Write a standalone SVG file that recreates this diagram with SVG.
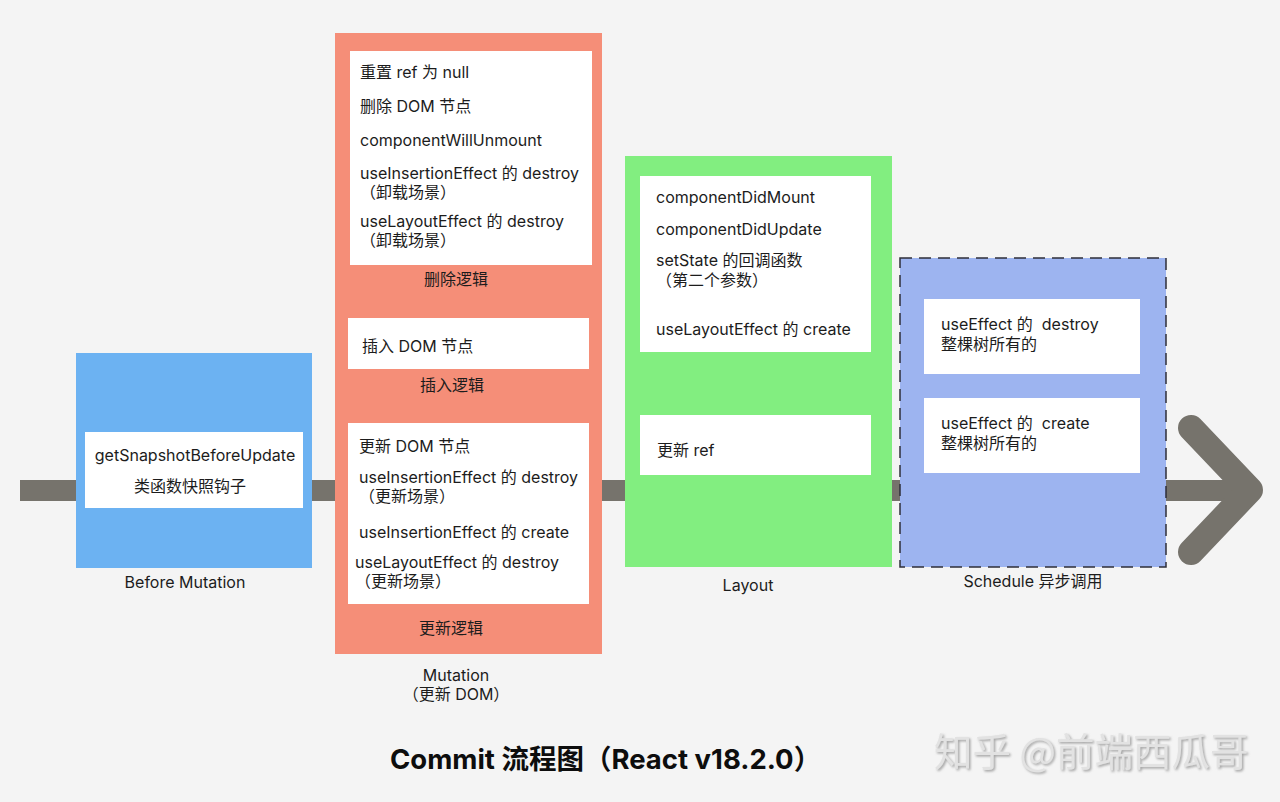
<svg xmlns="http://www.w3.org/2000/svg" width="1280" height="802" viewBox="0 0 1280 802">
<defs>
<style>
.t{font-family:Inter,"Noto Sans CJK SC",sans-serif;font-size:16px;fill:#1c1c1c;white-space:pre}
.c{text-anchor:middle}
.w{fill:#ffffff}
.title{font-family:Inter,"Noto Sans CJK SC",sans-serif;font-size:27.5px;font-weight:bold;fill:#0d0d0d}
.wm{font-family:"Noto Sans CJK SC",sans-serif;font-size:38.5px;fill:#e2e2e2}
</style>
<filter id="sh" x="-5%" y="-20%" width="110%" height="140%">
<feDropShadow dx="1.5" dy="1.5" stdDeviation="0.8" flood-color="#9a9a9a" flood-opacity="0.9"/>
</filter>
</defs>
<rect width="1280" height="802" fill="#f4f4f4"/>

<g id="timeline">
<rect x="20" y="480" width="1225" height="21" fill="#76736c"/>
<polyline points="1191,428 1250,490 1191,552" fill="none" stroke="#76736c" stroke-width="26" stroke-linecap="round" stroke-linejoin="round"/>
</g>

<g id="before-mutation">
<rect x="76" y="353" width="236" height="215" fill="#6cb2f2"/>
<rect x="85" y="432" width="218" height="76" class="w"/>
<text class="t c" x="195" y="461">getSnapshotBeforeUpdate</text>
<text class="t c" x="190" y="492">类函数快照钩子</text>
<text class="t c" x="185" y="588">Before Mutation</text>
</g>

<g id="mutation">
<rect x="335" y="33" width="267" height="621" fill="#f58e78"/>
<g id="delete-logic">
<rect x="350" y="51" width="242" height="214" class="w"/>
<text class="t" x="360" y="78">重置 ref 为 null</text>
<text class="t" x="360" y="112">删除 DOM 节点</text>
<text class="t" x="360" y="146">componentWillUnmount</text>
<text class="t" x="360" y="179">useInsertionEffect 的 destroy</text>
<text class="t" x="360" y="198">（卸载场景）</text>
<text class="t" x="360" y="227">useLayoutEffect 的 destroy</text>
<text class="t" x="360" y="246">（卸载场景）</text>
<text class="t c" x="456" y="285">删除逻辑</text>
</g>
<g id="insert-logic">
<rect x="348" y="318" width="241" height="51" class="w"/>
<text class="t" x="362" y="352">插入 DOM 节点</text>
<text class="t c" x="452" y="391">插入逻辑</text>
</g>
<g id="update-logic">
<rect x="348" y="423" width="241" height="181" class="w"/>
<text class="t" x="359" y="452">更新 DOM 节点</text>
<text class="t" x="359" y="483">useInsertionEffect 的 destroy</text>
<text class="t" x="359" y="502">（更新场景）</text>
<text class="t" x="359" y="538">useInsertionEffect 的 create</text>
<text class="t" x="355" y="568">useLayoutEffect 的 destroy</text>
<text class="t" x="355" y="587">（更新场景）</text>
<text class="t c" x="451" y="634">更新逻辑</text>
</g>
<text class="t c" x="456" y="681">Mutation</text>
<text class="t c" x="456" y="700">（更新 DOM）</text>
</g>

<g id="layout">
<rect x="625" y="156" width="267" height="411" fill="#82ee80"/>
<rect x="640" y="176" width="231" height="176" class="w"/>
<text class="t" x="656" y="203">componentDidMount</text>
<text class="t" x="656" y="235">componentDidUpdate</text>
<text class="t" x="656" y="266">setState 的回调函数</text>
<text class="t" x="656" y="286">（第二个参数）</text>
<text class="t" x="656" y="335">useLayoutEffect 的 create</text>
<rect x="640" y="415" width="231" height="60" class="w"/>
<text class="t" x="657" y="456">更新 ref</text>
<text class="t c" x="748" y="591">Layout</text>
</g>

<g id="schedule">
<rect x="900" y="258" width="266" height="309" fill="#9db4f0" stroke="#2e2e38" stroke-width="1.5" stroke-dasharray="12 7"/>
<rect x="924" y="299" width="216" height="75" class="w"/>
<text class="t" x="941" y="330" xml:space="preserve">useEffect 的  destroy</text>
<text class="t" x="941" y="350">整棵树所有的</text>
<rect x="924" y="398" width="216" height="75" class="w"/>
<text class="t" x="941" y="429" xml:space="preserve">useEffect 的  create</text>
<text class="t" x="941" y="449">整棵树所有的</text>
<text class="t c" x="1033" y="587">Schedule 异步调用</text>
</g>

<text class="title" x="390" y="769">Commit 流程图（React v18.2.0）</text>
<text class="wm" x="934" y="766" filter="url(#sh)">知乎 @前端西瓜哥</text>
</svg>
